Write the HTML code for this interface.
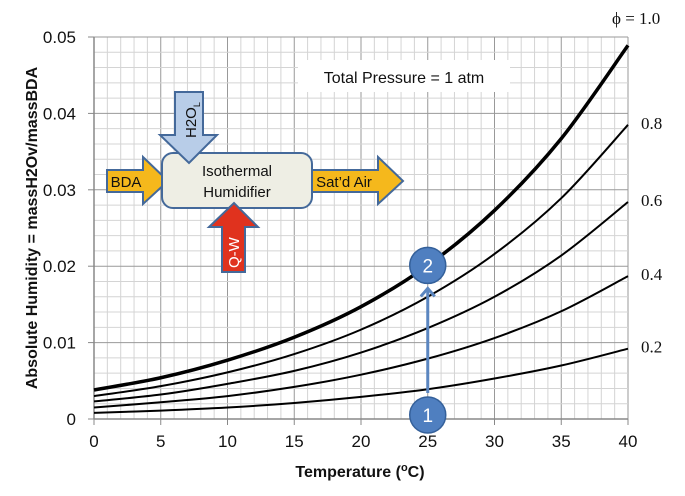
<!DOCTYPE html>
<html><head><meta charset="utf-8"><style>
body{margin:0;background:#fff;}
svg{display:block;font-family:"Liberation Sans",sans-serif;}
</style></head><body>
<svg id="chart" width="685" height="496" viewBox="0 0 685 496" xmlns="http://www.w3.org/2000/svg">
<g id="grid"></g>
<g id="axes"></g>
<g id="curves"></g>
<g id="labels"></g>
<g id="diagram">
  <rect x="298" y="60" width="212" height="32" fill="#fff"/>
  <text x="404" y="83" font-size="16" text-anchor="middle" fill="#111">Total Pressure = 1 atm</text>
  <polygon points="107,170 143,170 143,157 168,181 143,204 143,192 107,192" fill="#f5b81c" stroke="#44699a" stroke-width="2"/>
  <text x="126" y="187" font-size="15" text-anchor="middle" fill="#111">BDA</text>
  <polygon points="306,170 378,170 378,157 403,181 378,204 378,192 306,192" fill="#f5b81c" stroke="#44699a" stroke-width="2"/>
  <text x="344" y="187" font-size="15" text-anchor="middle" fill="#111">Sat’d Air</text>
  <rect x="162" y="153" width="150" height="55" rx="11" fill="#eeeee4" stroke="#44699a" stroke-width="2"/>
  <text x="237" y="176" font-size="15" text-anchor="middle" fill="#111">Isothermal</text>
  <text x="237" y="197" font-size="15" text-anchor="middle" fill="#111">Humidifier</text>
  <polygon points="175,92 203,92 203,135 217,135 189,163 160,135 175,135" fill="#b8cde8" stroke="#44699a" stroke-width="2"/>
  <text transform="translate(196,138) rotate(-90)" font-size="15" fill="#111">H2O<tspan font-size="9" dy="4">L</tspan></text>
  <polygon points="222,272 245,272 245,227 258,227 234,203 209,227 222,227" fill="#e0321e" stroke="#44699a" stroke-width="2"/>
  <text transform="translate(239,268) rotate(-90)" font-size="15" fill="#fff">Q-W</text>
</g>
<g id="process"></g>
</svg>
<script>
const temps=[0,5,10,15,20,25,30,35,40];
const phiLabels=["1.0","0.8","0.6","0.4","0.2"];
const w100=[0.0038,0.0054,0.0077,0.0107,0.0147,0.0201,0.0273,0.0367,0.0489];
const w80=[0.0030,0.0043,0.0061,0.0085,0.0117,0.0160,0.0216,0.0289,0.0385];
const w60=[0.0023,0.0032,0.0046,0.0063,0.0087,0.0119,0.0160,0.0214,0.0284];
const w40=[0.0015,0.0022,0.0030,0.0042,0.0058,0.0079,0.0106,0.0141,0.0187];
const w20=[0.0008,0.0011,0.0015,0.0021,0.0029,0.0039,0.0053,0.0070,0.0092];
const xTicks=[0,5,10,15,20,25,30,35,40];
const yTicks=[0,0.01,0.02,0.03,0.04,0.05];
const yTickLabels=["0","0.01","0.02","0.03","0.04","0.05"];
const state1=[25,0];
const state2=[25,0.0201];

const X0=94,X1=628,Y0=419,Y1=37;
const sx=t=>X0+(t-0)/(40-0)*(X1-X0);
const sy=v=>Y0-(v-0)/(0.05-0)*(Y0-Y1);
const NS="http://www.w3.org/2000/svg";
function mk(tag,parent,attrs){const e=document.createElementNS(NS,tag);for(const k in attrs)e.setAttribute(k,attrs[k]);parent.appendChild(e);return e;}
const grid=document.getElementById('grid'),axes=document.getElementById('axes'),curves=document.getElementById('curves'),labels=document.getElementById('labels'),proc=document.getElementById('process');

for(let t=0;t<=40;t++){
  const l=mk('line',grid,{x1:sx(t),x2:sx(t),y1:Y1,y2:Y0,stroke:t%5===0?'#999':'#d4d4d4','stroke-width':1});
  
  
}
for(let i=0;i<=25;i++){
  const v=i*0.002;
  const l=mk('line',grid,{x1:X0,x2:X1,y1:sy(v),y2:sy(v),stroke:i%5===0?'#999':'#d4d4d4','stroke-width':1});
  
  
}
const ax=mk('line',axes,{x1:X0,x2:X0,y1:Y1,y2:Y0,stroke:'#888','stroke-width':1.5});


const axx=mk('line',axes,{x1:X0,x2:X1,y1:Y0,y2:Y0,stroke:'#888','stroke-width':1.5});


yTicks.forEach((v,i)=>{
  mk('line',axes,{x1:X0-6,x2:X0,y1:sy(v),y2:sy(v),stroke:'#888'});
  const t=mk('text',axes,{x:76,y:sy(v)+6,'font-size':17,'text-anchor':'end',fill:'#111'});
  t.textContent=yTickLabels[i];
  
  
});
xTicks.forEach(v=>{
  mk('line',axes,{x1:sx(v),x2:sx(v),y1:Y0,y2:Y0+6,stroke:'#888'});
  const t=mk('text',axes,{x:sx(v),y:447,'font-size':17,'text-anchor':'middle',fill:'#111'});
  t.textContent=String(v);
  
  
});
const xt=mk('text',axes,{x:360,y:477,'font-size':16,'font-weight':'bold','text-anchor':'middle',fill:'#111'});
xt.innerHTML='Temperature (<tspan font-size="11" dy="-6">o</tspan><tspan dy="6">C)</tspan>';


const yt=mk('text',axes,{transform:'translate(37,228) rotate(-90)','font-size':16,'font-weight':'bold','text-anchor':'middle',fill:'#111'});
yt.textContent='Absolute Humidity = massH2Ov/massBDA';



function smooth(pts){
  let d=`M${pts[0][0]},${pts[0][1]}`;
  for(let i=0;i<pts.length-1;i++){
    const p0=pts[i-1]||pts[i],p1=pts[i],p2=pts[i+1],p3=pts[i+2]||p2;
    const c1=[p1[0]+(p2[0]-p0[0])/6,p1[1]+(p2[1]-p0[1])/6];
    const c2=[p2[0]-(p3[0]-p1[0])/6,p2[1]-(p3[1]-p1[1])/6];
    d+=` C${c1[0]},${c1[1]} ${c2[0]},${c2[1]} ${p2[0]},${p2[1]}`;
  }
  return d;
}
const series=[w100,w80,w60,w40,w20];
const names=['curve-phi-1-0','curve-phi-0-8','curve-phi-0-6','curve-phi-0-4','curve-phi-0-2'];
series.forEach((s,i)=>{
  const pts=s.map((v,j)=>[sx(temps[j]),sy(v)]);
  const p=mk('path',curves,{d:smooth(pts),fill:'none',stroke:'#000','stroke-width':i===0?3.5:2});
  
  
  const last=s[s.length-1];
  const lx=i===0?612:641, ly=i===0?24:sy(last)+4;
  const t=mk('text',labels,{x:lx,y:ly,'font-size':17,fill:'#111','font-family':'"Liberation Serif",serif'});
  t.textContent=i===0?'ϕ = '+phiLabels[i]:phiLabels[i];
  
  
});

const ax1=sx(state1[0]);
const a=mk('line',proc,{x1:ax1,x2:ax1,y1:sy(state1[1])-26,y2:sy(state2[1])+24,stroke:'#5b86c0','stroke-width':3});


mk('polyline',proc,{points:`${ax1-7},${sy(state2[1])+31} ${ax1},${sy(state2[1])+23} ${ax1+7},${sy(state2[1])+31}`,fill:'none',stroke:'#5b86c0','stroke-width':3});
[[state1,'1','state-1-marker',-4],[state2,'2','state-2-marker',0]].forEach(([s,lab,nm,off])=>{
  const c=mk('circle',proc,{cx:sx(s[0]),cy:sy(s[1])+off,r:18,fill:'#4f7fc0',stroke:'#34609a','stroke-width':1.5});
  
  
  const t=mk('text',proc,{x:sx(s[0]),y:sy(s[1])+off+7,'font-size':19,'text-anchor':'middle',fill:'#fff'});
  t.textContent=lab;
  
  
});
</script>
</body></html>
